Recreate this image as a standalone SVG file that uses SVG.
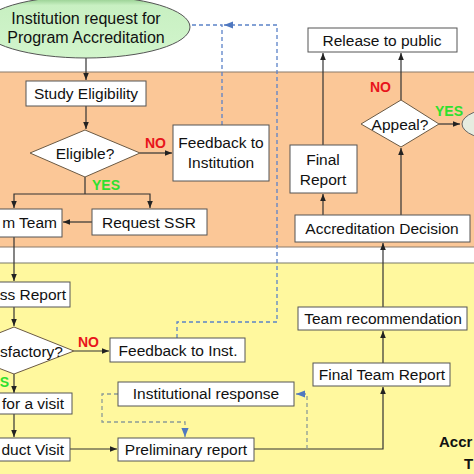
<svg xmlns="http://www.w3.org/2000/svg" width="474" height="474" viewBox="0 0 474 474">
<defs>
<style>
.box{fill:#fff;stroke:#555;stroke-width:1}
.dia{fill:#fff;stroke:#6b5a44;stroke-width:1}
.t{font-family:"Liberation Sans",Arial,sans-serif;font-size:15.5px;fill:#111;text-anchor:middle}
.te{font-family:"Liberation Sans",Arial,sans-serif;font-size:15.5px;fill:#111;text-anchor:end}
.no{font-family:"Liberation Sans",Arial,sans-serif;font-size:14px;font-weight:bold;fill:#e8141b}
.yes{font-family:"Liberation Sans",Arial,sans-serif;font-size:14px;font-weight:bold;fill:#2ee02e}
.lbl{font-family:"Liberation Sans",Arial,sans-serif;font-size:15px;font-weight:bold;fill:#111}
.c{fill:none;stroke:#333;stroke-width:1.2}
.db{fill:none;stroke:#5b82c8;stroke-width:1.3;stroke-dasharray:4,3}
.dg{fill:none;stroke:#8c9a98;stroke-width:1.3;stroke-dasharray:4,3}
</style>
<marker id="ah" viewBox="0 0 10 10" refX="10" refY="5" markerWidth="6" markerHeight="6" orient="auto-start-reverse"><path d="M0,1 L10,5 L0,9 z" fill="#222"/></marker>
<marker id="ab" viewBox="0 0 10 10" refX="10" refY="5" markerWidth="7" markerHeight="7" orient="auto-start-reverse"><path d="M0,1 L10,5 L0,9 z" fill="#4f78c0"/></marker>
<linearGradient id="eg" x1="0" y1="0" x2="0" y2="1"><stop offset="0" stop-color="#7fbf7a"/><stop offset="0.15" stop-color="#c8f0c2"/><stop offset="1" stop-color="#d2f5cc"/></linearGradient>
</defs>
<rect x="0" y="0" width="474" height="474" fill="#fff"/>
<g id="bands">
<rect x="-2" y="72" width="478" height="175" fill="#fbc797" stroke="#8a7a6a" stroke-width="1"/>
<rect x="-2" y="263" width="478" height="213" fill="#fff89e" stroke="#7a7a6a" stroke-width="1"/>
</g>
<g id="connectors">
<path class="c" d="M86,57 V80" marker-end="url(#ah)"/>
<path class="c" d="M86,106 V129" marker-end="url(#ah)"/>
<path class="c" d="M140,153 H172" marker-end="url(#ah)"/>
<path class="c" d="M85,177 V194"/>
<path class="c" d="M14,208 V194 H150 V208" marker-start="url(#ah)" marker-end="url(#ah)"/>
<path class="c" d="M92,222 H63" marker-end="url(#ah)"/>
<path class="c" d="M14,237 V281" marker-end="url(#ah)"/>
<path class="c" d="M14,307 V326" marker-end="url(#ah)"/>
<path class="c" d="M74,351 H109" marker-end="url(#ah)"/>
<path class="c" d="M14,374 V393" marker-end="url(#ah)"/>
<path class="c" d="M14,414 V437" marker-end="url(#ah)"/>
<path class="c" d="M70,449 H117" marker-end="url(#ah)"/>
<path class="c" d="M254,449 H383 V387" marker-end="url(#ah)"/>
<path class="c" d="M383,363 V331" marker-end="url(#ah)"/>
<path class="c" d="M383,307 V243" marker-end="url(#ah)"/>
<path class="c" d="M323,215 V194" marker-end="url(#ah)"/>
<path class="c" d="M323,145 V53" marker-end="url(#ah)"/>
<path class="c" d="M401,215 V148" marker-end="url(#ah)"/>
<path class="c" d="M401,100 V53" marker-end="url(#ah)"/>
<path class="c" d="M439,124 H460" marker-end="url(#ah)"/>
<path class="db" d="M222,125 V25 H175" marker-end="url(#ab)"/>
<path class="db" d="M177,338 V322 H277 V25 H224" marker-end="url(#ab)"/>
<path class="dg" d="M118,394 H102 V422 H185 V437" marker-end="url(#ab)"/>
<path class="dg" d="M307,449 V394 H296" marker-end="url(#ab)"/>
</g>
<g id="n_request"><ellipse cx="86" cy="27" rx="104" ry="31" fill="url(#eg)" stroke="#555" stroke-width="1"/><text class="t" x="86" y="24" style="font-size:16px">Institution request for</text><text class="t" x="86" y="43" style="font-size:16px">Program Accreditation</text></g>
<g id="n_study"><rect class="box" x="26" y="81" width="120" height="25"/><text class="t" x="86" y="99">Study Eligibility</text></g>
<g id="n_eligible"><path class="dia" d="M30,153 L85,130 L140,153 L85,177 Z"/><text class="t" x="85" y="159">Eligible?</text></g>
<g id="n_feedback"><rect class="box" x="173" y="125" width="96" height="56"/><text class="t" x="221" y="148">Feedback to</text><text class="t" x="221" y="168">Institution</text></g>
<g id="n_ssr"><rect class="box" x="92" y="209" width="115" height="26"/><text class="t" x="149" y="228">Request SSR</text></g>
<g id="n_team"><rect class="box" x="-10" y="209" width="72" height="28"/><text class="te" x="57" y="228">m Team</text></g>
<g id="n_ssreport"><rect class="box" x="-10" y="282" width="80" height="25"/><text class="te" x="66" y="300">ss Report</text></g>
<g id="n_satisf"><path class="dia" d="M-46,351 L14,327 L74,351 L14,374 Z"/><text class="te" x="63" y="357">sfactory?</text></g>
<g id="n_fbinst"><rect class="box" x="110" y="338" width="135" height="24"/><text class="t" x="178" y="356">Feedback to Inst.</text></g>
<g id="n_visitreq"><rect class="box" x="-10" y="393" width="82" height="21"/><text class="te" x="64" y="409">for a visit</text></g>
<g id="n_visit"><rect class="box" x="-10" y="438" width="80" height="23"/><text class="te" x="64" y="455">duct Visit</text></g>
<g id="n_prelim"><rect class="box" x="118" y="438" width="136" height="23"/><text class="t" x="186" y="455">Preliminary report</text></g>
<g id="n_instresp"><rect class="box" x="118" y="382" width="176" height="24"/><text class="t" x="206" y="399">Institutional response</text></g>
<g id="n_finalteam"><rect class="box" x="313" y="363" width="137" height="23"/><text class="t" x="382" y="380">Final Team Report</text></g>
<g id="n_teamrec"><rect class="box" x="298" y="307" width="169" height="23"/><text class="t" x="383" y="324">Team recommendation</text></g>
<g id="n_decision"><rect class="box" x="295" y="215" width="175" height="27"/><text class="t" x="382" y="234">Accreditation Decision</text></g>
<g id="n_finalrep"><rect class="box" x="290" y="145" width="67" height="48"/><text class="t" x="323" y="165">Final</text><text class="t" x="323" y="185">Report</text></g>
<g id="n_release"><rect class="box" x="308" y="28" width="149" height="24"/><text class="t" x="382" y="46">Release to public</text></g>
<g id="n_appeal"><path class="dia" d="M361,124 L401,100 L439,124 L401,147 Z"/><text class="t" x="400" y="130">Appeal?</text></g>
<g id="n_right"><ellipse cx="500" cy="124" rx="38" ry="16" fill="#e6ece0" stroke="#666" stroke-width="1"/></g>
<g id="labels">
<text class="no" x="145" y="148">NO</text>
<text class="yes" x="92" y="190">YES</text>
<text class="no" x="78" y="347">NO</text>
<text class="yes" x="9" y="387" text-anchor="end">S</text>
<text class="no" x="370" y="92">NO</text>
<text class="yes" x="435" y="116">YES</text>
<text class="lbl" x="439" y="447">Accr</text>
<text class="lbl" x="464" y="469">T</text>
</g>
</svg>
